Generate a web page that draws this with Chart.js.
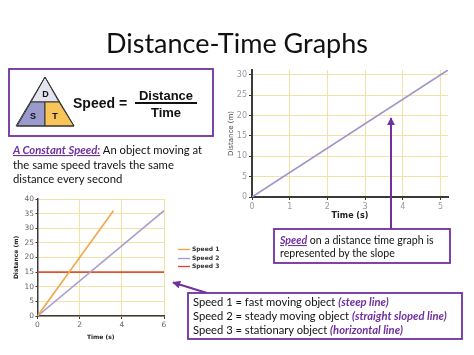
<!DOCTYPE html>
<html>
<head>
<meta charset="utf-8">
<script src="https://cdn.jsdelivr.net/npm/chart.js@4.4.1/dist/chart.umd.min.js"></script>
<style>
  html, body { margin: 0; padding: 0; background: #fff; }
  body { width: 474px; height: 355px; position: relative; overflow: hidden; }
  canvas { position: absolute; }
  #chartA { left: 222px; top: 62px; }
  #chartB { left: 0px; top: 190px; }
  svg#overlay { position: absolute; left: 0; top: 0; }
</style>
</head>
<body>
<canvas id="chartA" width="236" height="163" style="width:236px;height:163px"></canvas>
<canvas id="chartB" width="228" height="155" style="width:228px;height:155px"></canvas>
<svg id="overlay" width="474" height="355" xmlns="http://www.w3.org/2000/svg">
  <defs>
    <marker id="ah" viewBox="0 0 10 10" refX="9" refY="5" markerWidth="4" markerHeight="4" orient="auto-start-reverse">
      <path d="M0,0 L10,5 L0,10 z" fill="#7030a0"/>
    </marker>
  </defs>
  <!-- Title -->
  <text x="237" y="53" text-anchor="middle" font-family="Lato" font-size="27" fill="#111">Distance-Time Graphs</text>

  <!-- Formula box -->
  <rect x="9" y="69" width="204" height="67" fill="#fff" stroke="#7030a0" stroke-width="1.8"/>
  <polygon points="45,77 31,102 59,102" fill="#e4e4ef" stroke="#333" stroke-width="1"/>
  <polygon points="31,102 45,102 45,126 17,126" fill="#9a9acd" stroke="#333" stroke-width="1"/>
  <polygon points="45,102 59,102 74,126 45,126" fill="#f9c55a" stroke="#333" stroke-width="1"/>
  <polygon points="45,77 74,126 16,126" fill="none" stroke="#333" stroke-width="1"/>
  <text x="45.5" y="97" text-anchor="middle" font-family="Liberation Sans" font-weight="bold" font-size="9" fill="#111">D</text>
  <text x="33" y="118.5" text-anchor="middle" font-family="Liberation Sans" font-weight="bold" font-size="9" fill="#111">S</text>
  <text x="55" y="118.5" text-anchor="middle" font-family="Liberation Sans" font-weight="bold" font-size="9" fill="#111">T</text>
  <text x="73" y="108" font-family="Liberation Sans" font-weight="bold" font-size="14" fill="#111">Speed =</text>
  <text x="166" y="99.5" text-anchor="middle" font-family="Liberation Sans" font-weight="bold" font-size="13" fill="#111">Distance</text>
  <line x1="135" y1="103" x2="197" y2="103" stroke="#111" stroke-width="2"/>
  <text x="166" y="116.5" text-anchor="middle" font-family="Liberation Sans" font-weight="bold" font-size="13" fill="#111">Time</text>

  <!-- Constant speed text -->
  <text font-family="Lato" font-size="11.3" fill="#111">
    <tspan x="13" y="154"><tspan fill="#7030a0" font-weight="bold" font-style="italic" text-decoration="underline">A Constant Speed:</tspan> An object moving at</tspan>
    <tspan x="13" y="168.5">the same speed travels the same</tspan>
    <tspan x="13" y="183">distance every second</tspan>
  </text>

  <!-- Slope box + arrow -->
  <line x1="391" y1="229" x2="391" y2="118" stroke="#7030a0" stroke-width="2" marker-end="url(#ah)"/>
  <rect x="274" y="229" width="176" height="34" fill="#fff" stroke="#7030a0" stroke-width="1.8"/>
  <text font-family="Lato" font-size="10.6" fill="#111">
    <tspan x="280" y="244"><tspan fill="#7030a0" font-weight="bold" font-style="italic" text-decoration="underline">Speed</tspan> on a distance time graph is</tspan>
    <tspan x="280" y="257">represented by the slope</tspan>
  </text>

  <!-- Speeds box + arrow -->
  <line x1="207" y1="293" x2="173" y2="282.5" stroke="#7030a0" stroke-width="2" marker-end="url(#ah)"/>
  <rect x="188" y="293" width="274" height="46" fill="#fff" stroke="#7030a0" stroke-width="1.8"/>
  <text font-family="Lato" font-size="11.2" fill="#111">
    <tspan x="193" y="305.5">Speed 1 = fast moving object <tspan fill="#7030a0" font-weight="bold" font-style="italic">(steep line)</tspan></tspan>
    <tspan x="193" y="320">Speed 2 = steady moving object <tspan fill="#7030a0" font-weight="bold" font-style="italic">(straight sloped line)</tspan></tspan>
    <tspan x="193" y="334.3">Speed 3 = stationary object <tspan fill="#7030a0" font-weight="bold" font-style="italic">(horizontal line)</tspan></tspan>
  </text>
</svg>
<script>
// ---------- Data ----------
// Top-right graph (single constant-speed line)
const topTimes = [0, 5.2];
const topDistances = [0, 31.2];
const topXTicks = [0, 1, 2, 3, 4, 5];
const topYTicks = [0, 5, 10, 15, 20, 25, 30];

// Bottom-left graph (three speeds)
const seriesNames = ['Speed 1', 'Speed 2', 'Speed 3'];
const speed1Times = [0, 3.6];
const speed1Distances = [0, 36];
const speed2Times = [0, 6];
const speed2Distances = [0, 36];
const speed3Times = [0, 6];
const speed3Distances = [15, 15];
const bottomXTicks = [0, 2, 4, 6];
const bottomYTicks = [0, 5, 10, 15, 20, 25, 30, 35, 40];

const axisTitleX = 'Time (s)';
const axisTitleY = 'Distance (m)';

// ---------- Helpers ----------
const toPoints = (xs, ys) => xs.map((x, i) => ({ x, y: ys[i] }));
const keepTicks = (list) => (scale) => {
  scale.ticks = list.map(v => ({ value: v }));
};
const GRID = '#f3e2a6';
const AXIS = '#3a3a3a';

// ---------- Chart A ----------
new Chart(document.getElementById('chartA'), {
  type: 'scatter',
  data: {
    datasets: [{
      data: toPoints(topTimes, topDistances),
      showLine: true,
      borderColor: '#9d95c9',
      backgroundColor: '#9d95c9',
      borderWidth: 1.6,
      pointRadius: 0
    }]
  },
  options: {
    responsive: false,
    animation: false,
    layout: { padding: { top: 8, right: 10, left: 0, bottom: 0 } },
    plugins: { legend: { display: false }, tooltip: { enabled: false } },
    scales: {
      x: {
        type: 'linear', min: 0, max: 5.2,
        afterBuildTicks: keepTicks(topXTicks),
        afterFit: s => { s.height = 28; },
        grid: { color: GRID, tickColor: AXIS, tickLength: 3 },
        border: { color: AXIS, width: 2 },
        ticks: { color: '#9a9a9a', padding: 2, font: { family: 'DejaVu Sans', size: 8 } },
        title: { display: true, text: axisTitleX, color: '#222', padding: { top: 2, bottom: 4 },
                 font: { family: 'DejaVu Sans', size: 8, weight: 'bold' } }
      },
      y: {
        type: 'linear', min: 0, max: 31.2,
        afterBuildTicks: keepTicks(topYTicks),
        afterFit: s => { s.width = 30; },
        grid: { color: GRID, tickColor: AXIS, tickLength: 3 },
        border: { color: AXIS, width: 2 },
        ticks: { color: '#9a9a9a', padding: 2, font: { family: 'DejaVu Sans', size: 8 } },
        title: { display: true, text: axisTitleY, color: '#444', padding: { top: 5, bottom: 2 },
                 font: { family: 'DejaVu Sans', size: 7 } }
      }
    }
  }
});

// ---------- Chart B ----------
const colors = ['#f0a84a', '#a59fd0', '#e0512f'];
const seriesTimes = [speed1Times, speed2Times, speed3Times];
const seriesDistances = [speed1Distances, speed2Distances, speed3Distances];

// Side legend drawn next to the plot area, from the datasets' labels and colours
const sideLegend = {
  id: 'sideLegend',
  afterDraw(chart, args, opts) {
    const { ctx, chartArea } = chart;
    const items = chart.data.datasets;
    const mid = (chartArea.top + chartArea.bottom) / 2;
    const x0 = chartArea.right + opts.gap;
    ctx.save();
    ctx.font = opts.font;
    ctx.textBaseline = 'middle';
    ctx.textAlign = 'left';
    items.forEach((ds, i) => {
      const y = Math.round(mid + (i - (items.length - 1) / 2) * opts.rowHeight) + 0.5;
      ctx.strokeStyle = ds.borderColor;
      ctx.lineWidth = 1.4;
      ctx.beginPath();
      ctx.moveTo(x0, y);
      ctx.lineTo(x0 + opts.lineLength, y);
      ctx.stroke();
      ctx.fillStyle = opts.color;
      ctx.fillText(ds.label, x0 + opts.lineLength + 2, y);
    });
    ctx.restore();
  }
};

new Chart(document.getElementById('chartB'), {
  type: 'scatter',
  data: {
    datasets: seriesNames.map((name, i) => ({
      label: name,
      data: toPoints(seriesTimes[i], seriesDistances[i]),
      showLine: true,
      borderColor: colors[i],
      backgroundColor: colors[i],
      borderWidth: 1.6,
      pointRadius: 0
    }))
  },
  plugins: [sideLegend],
  options: {
    responsive: false,
    animation: false,
    layout: { padding: { top: 9, right: 64, left: 9, bottom: 0 } },
    plugins: {
      tooltip: { enabled: false },
      legend: { display: false },
      sideLegend: { gap: 14, lineLength: 12, rowHeight: 8.3, color: '#333', font: 'bold 6px "DejaVu Sans"' }
    },
    scales: {
      x: {
        type: 'linear', min: 0, max: 6,
        afterBuildTicks: keepTicks(bottomXTicks),
        afterFit: s => { s.height = 29; },
        grid: { color: GRID, tickColor: AXIS, tickLength: 3 },
        border: { color: AXIS, width: 1.5 },
        ticks: { color: '#666', padding: 2, font: { family: 'DejaVu Sans', size: 7.5 } },
        title: { display: true, text: axisTitleX, color: '#222', padding: { top: 2, bottom: 4 },
                 font: { family: 'DejaVu Sans', size: 6, weight: 'bold' } }
      },
      y: {
        type: 'linear', min: 0, max: 40,
        afterBuildTicks: keepTicks(bottomYTicks),
        afterFit: s => { s.width = 28.5; },
        grid: { color: GRID, tickColor: AXIS, tickLength: 2 },
        border: { color: AXIS, width: 1.5 },
        ticks: { color: '#666', padding: 1.5, font: { family: 'DejaVu Sans', size: 7.5 } },
        title: { display: true, text: axisTitleY, color: '#222', padding: { top: 4, bottom: 2 },
                 font: { family: 'DejaVu Sans', size: 6, weight: 'bold' } }
      }
    }
  }
});
</script>
</body>
</html>
